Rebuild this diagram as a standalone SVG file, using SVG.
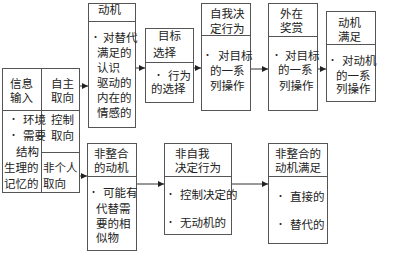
<svg xmlns="http://www.w3.org/2000/svg" width="395" height="271" viewBox="0 0 395 271">
<style>
rect,line.d{fill:#fff;stroke:#555;stroke-width:1}
line.d{fill:none}
text{font-family:"Noto Sans CJK SC","Noto Sans",sans-serif;font-size:11.5px;fill:#222}
text.b{font-size:9px}
.c line{stroke:#333;stroke-width:1}
</style>
<defs>
<marker id="ah" markerWidth="7" markerHeight="6" refX="6" refY="3" orient="auto" markerUnits="userSpaceOnUse">
<path d="M0,0 L6,3 L0,6 Z" fill="#222"/>
</marker>
</defs>
<rect x="0" y="0" width="395" height="271" style="stroke:none;fill:#fff"/>
<g class="c">
<line x1="79" y1="86" x2="88" y2="86" marker-end="url(#ah)"/>
<line x1="79" y1="176" x2="87" y2="176" marker-end="url(#ah)"/>
<line x1="135" y1="68" x2="145" y2="68" marker-end="url(#ah)"/>
<line x1="193" y1="68" x2="201" y2="68" marker-end="url(#ah)"/>
<line x1="250" y1="69" x2="268" y2="69" marker-end="url(#ah)"/>
<line x1="317" y1="69" x2="326" y2="69" marker-end="url(#ah)"/>
<line x1="136" y1="184" x2="164" y2="184" marker-end="url(#ah)"/>
<line x1="231" y1="184" x2="268" y2="184" marker-end="url(#ah)"/>
</g>
<g id="n1">
<rect x="2.5" y="68.5" width="77" height="124"/>
<line class="d" x1="41.5" y1="68.5" x2="41.5" y2="192.5"/>
<line class="d" x1="2.5" y1="110.5" x2="79.5" y2="110.5"/>
<line class="d" x1="41.5" y1="152.5" x2="79.5" y2="152.5"/>
<text x="10" y="87.5">信息</text>
<text x="10" y="101.5">输入</text>
<text x="51" y="87.5">自主</text>
<text x="51" y="101.5">取向</text>
<text class="b" x="9" y="122">•</text>
<text x="23" y="123.5">环境</text>
<text class="b" x="9" y="138">•</text>
<text x="23" y="139.5">需要</text>
<text x="16" y="155.5">结构</text>
<text x="4" y="171.5">生理的</text>
<text x="4" y="187.5">记忆的</text>
<text x="51" y="123.5">控制</text>
<text x="51" y="139.5">取向</text>
<text x="43" y="171.5">非个人</text>
<text x="43" y="187.5">取向</text>
</g>
<g id="n2">
<rect x="88.5" y="3.5" width="47" height="124"/>
<line class="d" x1="88.5" y1="21.5" x2="135.5" y2="21.5"/>
<text x="98" y="14">动机</text>
<text class="b" x="91" y="40">•</text>
<text x="103" y="41.5">对替代</text>
<text x="97" y="57">满足的</text>
<text x="97" y="72">认识</text>
<text x="97" y="87">驱动的</text>
<text x="97" y="101.5">内在的</text>
<text x="97" y="116.5">情感的</text>
</g>
<g id="n3">
<rect x="145.5" y="28.5" width="48" height="74"/>
<line class="d" x1="145.5" y1="62.5" x2="193.5" y2="62.5"/>
<text x="158" y="39.5">目标</text>
<text x="153" y="56.5">选择</text>
<text class="b" x="154" y="78">•</text>
<text x="168" y="79.5">行为</text>
<text x="151" y="93">的选择</text>
</g>
<g id="n4">
<rect x="201.5" y="3.5" width="49" height="107"/>
<line class="d" x1="201.5" y1="35.5" x2="250.5" y2="35.5"/>
<text x="210" y="17.5">自我决</text>
<text x="210" y="32.5">定行为</text>
<text class="b" x="203" y="58">•</text>
<text x="218" y="59.5">对目标</text>
<text x="210" y="74.5">的一系</text>
<text x="210" y="89.5">列操作</text>
</g>
<g id="n5">
<rect x="268.5" y="3.5" width="49" height="107"/>
<line class="d" x1="268.5" y1="36.5" x2="317.5" y2="36.5"/>
<text x="280" y="17.5">外在</text>
<text x="280" y="31.5">奖赏</text>
<text class="b" x="272" y="58">•</text>
<text x="285" y="59.5">对目标</text>
<text x="278" y="73.5">的一系</text>
<text x="279" y="89.5">列操作</text>
</g>
<g id="n6">
<rect x="326.5" y="11.5" width="49" height="90"/>
<line class="d" x1="326.5" y1="44.5" x2="375.5" y2="44.5"/>
<text x="338" y="27">动机</text>
<text x="338" y="40.5">满足</text>
<text class="b" x="328" y="63">•</text>
<text x="342" y="64.5">对动机</text>
<text x="336" y="79.5">的一系</text>
<text x="336" y="92.5">列操作</text>
</g>
<g id="n7">
<rect x="87.5" y="143.5" width="49" height="107"/>
<line class="d" x1="87.5" y1="176.5" x2="136.5" y2="176.5"/>
<text x="94" y="157.5">非整合</text>
<text x="94" y="171.5">的动机</text>
<text class="b" x="89" y="195">•</text>
<text x="103" y="196.5">可能有</text>
<text x="96" y="212.5">代替需</text>
<text x="96" y="227.5">要的相</text>
<text x="96" y="242">似物</text>
</g>
<g id="n8">
<rect x="164.5" y="143.5" width="67" height="91"/>
<line class="d" x1="164.5" y1="176.5" x2="231.5" y2="176.5"/>
<text x="175" y="157.5">非自我</text>
<text x="175" y="171.5">决定行为</text>
<text class="b" x="166" y="197">•</text>
<text x="180" y="198.5">控制决定的</text>
<text class="b" x="166" y="225">•</text>
<text x="180" y="226.5">无动机的</text>
</g>
<g id="n9">
<rect x="268.5" y="143.5" width="59" height="100"/>
<line class="d" x1="268.5" y1="176.5" x2="327.5" y2="176.5"/>
<text x="275" y="157.5">非整合的</text>
<text x="275" y="171.5">动机满足</text>
<text class="b" x="276" y="199">•</text>
<text x="290" y="200.5">直接的</text>
<text class="b" x="276" y="227">•</text>
<text x="290" y="228.5">替代的</text>
</g>
</svg>
